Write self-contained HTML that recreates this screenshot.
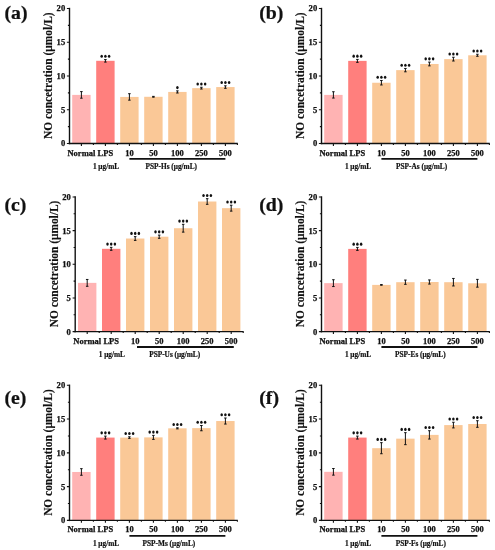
<!DOCTYPE html>
<html><head><meta charset="utf-8"><style>
html,body{margin:0;padding:0;background:#fff;}
svg{display:block;will-change:transform;}
text{font-family:"Liberation Serif", serif;font-weight:bold;fill:#111;}
.st{font-size:9px;text-anchor:middle;}
.yt{font-size:8.6px;text-anchor:end;stroke:#111;stroke-width:0.25px;}
.xl{font-size:8.5px;text-anchor:middle;stroke:#111;stroke-width:0.25px;}
.sl{font-size:7.3px;text-anchor:middle;stroke:#111;stroke-width:0.2px;}
.yl{font-size:11.8px;text-anchor:middle;stroke:#111;stroke-width:0.15px;}
.pl{font-size:19.8px;stroke:#111;stroke-width:0.25px;}
</style></head><body>
<svg width="495" height="550" viewBox="0 0 495 550">
<rect width="495" height="550" fill="#fff"/>
<rect x="72.2" y="94.9" width="18.4" height="48.6" fill="#FFB3B3"/>
<rect x="96.2" y="60.81" width="18.4" height="82.69" fill="#FF7F7D"/>
<rect x="120.2" y="96.92" width="18.4" height="46.58" fill="#FAC897"/>
<rect x="144.2" y="96.79" width="18.4" height="46.71" fill="#FAC897"/>
<rect x="168.2" y="91.93" width="18.4" height="51.57" fill="#FAC897"/>
<rect x="192.2" y="88.15" width="18.4" height="55.35" fill="#FAC897"/>
<rect x="216.2" y="87.07" width="18.4" height="56.43" fill="#FAC897"/>
<path d="M81.4 91.6V98.2M80.15 91.6h2.5M80.15 98.2h2.5" stroke="#111" stroke-width="1" fill="none"/>
<path d="M105.4 59.54V62.08M104.15 59.54h2.5M104.15 62.08h2.5" stroke="#111" stroke-width="1" fill="none"/>
<ellipse cx="101.7" cy="56.29" rx="1.25" ry="1.55" fill="#111"/>
<ellipse cx="105.4" cy="56.29" rx="1.25" ry="1.55" fill="#111"/>
<ellipse cx="109.1" cy="56.29" rx="1.25" ry="1.55" fill="#111"/>
<path d="M129.4 93.7V100.15M128.15 93.7h2.5M128.15 100.15h2.5" stroke="#111" stroke-width="1" fill="none"/>
<path d="M153.4 96.39V97.19M152.15 96.39h2.5M152.15 97.19h2.5" stroke="#111" stroke-width="1" fill="none"/>
<path d="M177.4 90.86V93M176.15 90.86h2.5M176.15 93h2.5" stroke="#111" stroke-width="1" fill="none"/>
<ellipse cx="177.4" cy="87.61" rx="1.25" ry="1.55" fill="#111"/>
<path d="M201.4 87.28V89.02M200.15 87.28h2.5M200.15 89.02h2.5" stroke="#111" stroke-width="1" fill="none"/>
<ellipse cx="197.7" cy="84.03" rx="1.25" ry="1.55" fill="#111"/>
<ellipse cx="201.4" cy="84.03" rx="1.25" ry="1.55" fill="#111"/>
<ellipse cx="205.1" cy="84.03" rx="1.25" ry="1.55" fill="#111"/>
<path d="M225.4 85.8V88.34M224.15 85.8h2.5M224.15 88.34h2.5" stroke="#111" stroke-width="1" fill="none"/>
<ellipse cx="221.7" cy="82.55" rx="1.25" ry="1.55" fill="#111"/>
<ellipse cx="225.4" cy="82.55" rx="1.25" ry="1.55" fill="#111"/>
<ellipse cx="229.1" cy="82.55" rx="1.25" ry="1.55" fill="#111"/>
<path d="M69.5 7.8V144.2" stroke="#111" stroke-width="1.4"/>
<path d="M68.8 143.5H237.8" stroke="#111" stroke-width="1.4"/>
<path d="M69.5 143.5h-2.6M69.5 126.62h-1.6M69.5 109.75h-2.6M69.5 92.88h-1.6M69.5 76h-2.6M69.5 59.12h-1.6M69.5 42.25h-2.6M69.5 25.38h-1.6M69.5 8.5h-2.6" stroke="#111" stroke-width="1.1"/>
<text x="65.2" y="146.4" class="yt">0</text>
<text x="65.2" y="112.65" class="yt">5</text>
<text x="65.2" y="78.9" class="yt">10</text>
<text x="65.2" y="45.15" class="yt">15</text>
<text x="65.2" y="11.4" class="yt">20</text>
<path d="M81.4 143.5v2.4M93.4 143.5v1.4M105.4 143.5v2.4M117.4 143.5v1.4M129.4 143.5v2.4M141.4 143.5v1.4M153.4 143.5v2.4M165.4 143.5v1.4M177.4 143.5v2.4M189.4 143.5v1.4M201.4 143.5v2.4M213.4 143.5v1.4M225.4 143.5v2.4M237.4 143.5v1.4" stroke="#111" stroke-width="1.1"/>
<text x="81.4" y="155.5" class="xl">Normal</text>
<text x="105.4" y="155.5" class="xl">LPS</text>
<text x="129.4" y="155.5" class="xl">10</text>
<text x="153.4" y="155.5" class="xl">50</text>
<text x="177.4" y="155.5" class="xl">100</text>
<text x="201.4" y="155.5" class="xl">250</text>
<text x="225.4" y="155.5" class="xl">500</text>
<text x="106" y="168.8" class="sl">1 μg/mL</text>
<path d="M129.4 158.9H225.4" stroke="#111" stroke-width="1.8"/>
<text x="171.3" y="169.1" class="sl">PSP-Hs (μg/mL)</text>
<text transform="translate(51.9 75.7) rotate(-90)" class="yl" textLength="126.6" lengthAdjust="spacingAndGlyphs">NO concetration (μmol/L)</text>
<text transform="translate(4.45 18.5) scale(1 0.93)" class="pl">(a)</text>
<rect x="324.2" y="94.9" width="18.4" height="48.6" fill="#FFB3B3"/>
<rect x="348.2" y="60.88" width="18.4" height="82.62" fill="#FF7F7D"/>
<rect x="372.2" y="82.75" width="18.4" height="60.75" fill="#FAC897"/>
<rect x="396.2" y="70.13" width="18.4" height="73.37" fill="#FAC897"/>
<rect x="420.2" y="63.98" width="18.4" height="79.52" fill="#FAC897"/>
<rect x="444.2" y="59.12" width="18.4" height="84.38" fill="#FAC897"/>
<rect x="468.2" y="55.28" width="18.4" height="88.22" fill="#FAC897"/>
<path d="M333.4 91.74V98.06M332.15 91.74h2.5M332.15 98.06h2.5" stroke="#111" stroke-width="1" fill="none"/>
<path d="M357.4 59.41V62.35M356.15 59.41h2.5M356.15 62.35h2.5" stroke="#111" stroke-width="1" fill="none"/>
<ellipse cx="353.7" cy="56.16" rx="1.25" ry="1.55" fill="#111"/>
<ellipse cx="357.4" cy="56.16" rx="1.25" ry="1.55" fill="#111"/>
<ellipse cx="361.1" cy="56.16" rx="1.25" ry="1.55" fill="#111"/>
<path d="M381.4 80.53V84.97M380.15 80.53h2.5M380.15 84.97h2.5" stroke="#111" stroke-width="1" fill="none"/>
<ellipse cx="377.7" cy="77.28" rx="1.25" ry="1.55" fill="#111"/>
<ellipse cx="381.4" cy="77.28" rx="1.25" ry="1.55" fill="#111"/>
<ellipse cx="385.1" cy="77.28" rx="1.25" ry="1.55" fill="#111"/>
<path d="M405.4 68.45V71.8M404.15 68.45h2.5M404.15 71.8h2.5" stroke="#111" stroke-width="1" fill="none"/>
<ellipse cx="401.7" cy="65.2" rx="1.25" ry="1.55" fill="#111"/>
<ellipse cx="405.4" cy="65.2" rx="1.25" ry="1.55" fill="#111"/>
<ellipse cx="409.1" cy="65.2" rx="1.25" ry="1.55" fill="#111"/>
<path d="M429.4 62.11V65.86M428.15 62.11h2.5M428.15 65.86h2.5" stroke="#111" stroke-width="1" fill="none"/>
<ellipse cx="425.7" cy="58.86" rx="1.25" ry="1.55" fill="#111"/>
<ellipse cx="429.4" cy="58.86" rx="1.25" ry="1.55" fill="#111"/>
<ellipse cx="433.1" cy="58.86" rx="1.25" ry="1.55" fill="#111"/>
<path d="M453.4 57.25V61M452.15 57.25h2.5M452.15 61h2.5" stroke="#111" stroke-width="1" fill="none"/>
<ellipse cx="449.7" cy="54" rx="1.25" ry="1.55" fill="#111"/>
<ellipse cx="453.4" cy="54" rx="1.25" ry="1.55" fill="#111"/>
<ellipse cx="457.1" cy="54" rx="1.25" ry="1.55" fill="#111"/>
<path d="M477.4 54.28V56.28M476.15 54.28h2.5M476.15 56.28h2.5" stroke="#111" stroke-width="1" fill="none"/>
<ellipse cx="473.7" cy="51.03" rx="1.25" ry="1.55" fill="#111"/>
<ellipse cx="477.4" cy="51.03" rx="1.25" ry="1.55" fill="#111"/>
<ellipse cx="481.1" cy="51.03" rx="1.25" ry="1.55" fill="#111"/>
<path d="M321.5 7.8V144.2" stroke="#111" stroke-width="1.4"/>
<path d="M320.8 143.5H489.8" stroke="#111" stroke-width="1.4"/>
<path d="M321.5 143.5h-2.6M321.5 126.62h-1.6M321.5 109.75h-2.6M321.5 92.88h-1.6M321.5 76h-2.6M321.5 59.12h-1.6M321.5 42.25h-2.6M321.5 25.38h-1.6M321.5 8.5h-2.6" stroke="#111" stroke-width="1.1"/>
<text x="317.2" y="146.4" class="yt">0</text>
<text x="317.2" y="112.65" class="yt">5</text>
<text x="317.2" y="78.9" class="yt">10</text>
<text x="317.2" y="45.15" class="yt">15</text>
<text x="317.2" y="11.4" class="yt">20</text>
<path d="M333.4 143.5v2.4M345.4 143.5v1.4M357.4 143.5v2.4M369.4 143.5v1.4M381.4 143.5v2.4M393.4 143.5v1.4M405.4 143.5v2.4M417.4 143.5v1.4M429.4 143.5v2.4M441.4 143.5v1.4M453.4 143.5v2.4M465.4 143.5v1.4M477.4 143.5v2.4M489.4 143.5v1.4" stroke="#111" stroke-width="1.1"/>
<text x="333.4" y="155.5" class="xl">Normal</text>
<text x="357.4" y="155.5" class="xl">LPS</text>
<text x="381.4" y="155.5" class="xl">10</text>
<text x="405.4" y="155.5" class="xl">50</text>
<text x="429.4" y="155.5" class="xl">100</text>
<text x="453.4" y="155.5" class="xl">250</text>
<text x="477.4" y="155.5" class="xl">500</text>
<text x="358" y="168.8" class="sl">1 μg/mL</text>
<path d="M381.4 158.9H477.4" stroke="#111" stroke-width="1.8"/>
<text x="421.6" y="169.1" class="sl">PSP-As (μg/mL)</text>
<text transform="translate(303.9 75.7) rotate(-90)" class="yl" textLength="126.6" lengthAdjust="spacingAndGlyphs">NO concetration (μmol/L)</text>
<text transform="translate(259.2 18.5) scale(1 0.93)" class="pl">(b)</text>
<rect x="78" y="282.87" width="18.4" height="48.73" fill="#FFB3B3"/>
<rect x="102" y="248.82" width="18.4" height="82.78" fill="#FF7F7D"/>
<rect x="126" y="238.52" width="18.4" height="93.08" fill="#FAC897"/>
<rect x="150" y="236.71" width="18.4" height="94.89" fill="#FAC897"/>
<rect x="174" y="228.23" width="18.4" height="103.37" fill="#FAC897"/>
<rect x="198" y="201.51" width="18.4" height="130.09" fill="#FAC897"/>
<rect x="222" y="208.17" width="18.4" height="123.43" fill="#FAC897"/>
<path d="M87.2 279.46V286.29M85.95 279.46h2.5M85.95 286.29h2.5" stroke="#111" stroke-width="1" fill="none"/>
<path d="M111.2 247.35V250.29M109.95 247.35h2.5M109.95 250.29h2.5" stroke="#111" stroke-width="1" fill="none"/>
<ellipse cx="107.5" cy="244.1" rx="1.25" ry="1.55" fill="#111"/>
<ellipse cx="111.2" cy="244.1" rx="1.25" ry="1.55" fill="#111"/>
<ellipse cx="114.9" cy="244.1" rx="1.25" ry="1.55" fill="#111"/>
<path d="M135.2 236.65V240.4M133.95 236.65h2.5M133.95 240.4h2.5" stroke="#111" stroke-width="1" fill="none"/>
<ellipse cx="131.5" cy="233.4" rx="1.25" ry="1.55" fill="#111"/>
<ellipse cx="135.2" cy="233.4" rx="1.25" ry="1.55" fill="#111"/>
<ellipse cx="138.9" cy="233.4" rx="1.25" ry="1.55" fill="#111"/>
<path d="M159.2 235.11V238.31M157.95 235.11h2.5M157.95 238.31h2.5" stroke="#111" stroke-width="1" fill="none"/>
<ellipse cx="155.5" cy="231.86" rx="1.25" ry="1.55" fill="#111"/>
<ellipse cx="159.2" cy="231.86" rx="1.25" ry="1.55" fill="#111"/>
<ellipse cx="162.9" cy="231.86" rx="1.25" ry="1.55" fill="#111"/>
<path d="M183.2 224.34V232.12M181.95 224.34h2.5M181.95 232.12h2.5" stroke="#111" stroke-width="1" fill="none"/>
<ellipse cx="179.5" cy="221.09" rx="1.25" ry="1.55" fill="#111"/>
<ellipse cx="183.2" cy="221.09" rx="1.25" ry="1.55" fill="#111"/>
<ellipse cx="186.9" cy="221.09" rx="1.25" ry="1.55" fill="#111"/>
<path d="M207.2 198.7V204.32M205.95 198.7h2.5M205.95 204.32h2.5" stroke="#111" stroke-width="1" fill="none"/>
<ellipse cx="203.5" cy="195.45" rx="1.25" ry="1.55" fill="#111"/>
<ellipse cx="207.2" cy="195.45" rx="1.25" ry="1.55" fill="#111"/>
<ellipse cx="210.9" cy="195.45" rx="1.25" ry="1.55" fill="#111"/>
<path d="M231.2 205.22V211.12M229.95 205.22h2.5M229.95 211.12h2.5" stroke="#111" stroke-width="1" fill="none"/>
<ellipse cx="227.5" cy="201.97" rx="1.25" ry="1.55" fill="#111"/>
<ellipse cx="231.2" cy="201.97" rx="1.25" ry="1.55" fill="#111"/>
<ellipse cx="234.9" cy="201.97" rx="1.25" ry="1.55" fill="#111"/>
<path d="M75.2 196.3V332.3" stroke="#111" stroke-width="1.4"/>
<path d="M74.5 331.6H243.6" stroke="#111" stroke-width="1.4"/>
<path d="M75.2 331.6h-2.6M75.2 314.78h-1.6M75.2 297.95h-2.6M75.2 281.12h-1.6M75.2 264.3h-2.6M75.2 247.48h-1.6M75.2 230.65h-2.6M75.2 213.82h-1.6M75.2 197h-2.6" stroke="#111" stroke-width="1.1"/>
<text x="70.9" y="334.5" class="yt">0</text>
<text x="70.9" y="300.85" class="yt">5</text>
<text x="70.9" y="267.2" class="yt">10</text>
<text x="70.9" y="233.55" class="yt">15</text>
<text x="70.9" y="199.9" class="yt">20</text>
<path d="M87.2 331.6v2.4M99.2 331.6v1.4M111.2 331.6v2.4M123.2 331.6v1.4M135.2 331.6v2.4M147.2 331.6v1.4M159.2 331.6v2.4M171.2 331.6v1.4M183.2 331.6v2.4M195.2 331.6v1.4M207.2 331.6v2.4M219.2 331.6v1.4M231.2 331.6v2.4M243.2 331.6v1.4" stroke="#111" stroke-width="1.1"/>
<text x="87.2" y="343.6" class="xl">Normal</text>
<text x="111.2" y="343.6" class="xl">LPS</text>
<text x="135.2" y="343.6" class="xl">10</text>
<text x="159.2" y="343.6" class="xl">50</text>
<text x="183.2" y="343.6" class="xl">100</text>
<text x="207.2" y="343.6" class="xl">250</text>
<text x="231.2" y="343.6" class="xl">500</text>
<text x="111.8" y="356.9" class="sl">1 μg/mL</text>
<path d="M137 347H233.8" stroke="#111" stroke-width="1.8"/>
<text x="174.7" y="357.2" class="sl">PSP-Us (μg/mL)</text>
<text transform="translate(57.6 264) rotate(-90)" class="yl" textLength="126.6" lengthAdjust="spacingAndGlyphs">NO concetration (μmol/L)</text>
<text transform="translate(4.45 211.35) scale(1 0.93)" class="pl">(c)</text>
<rect x="324.2" y="283.14" width="18.4" height="48.46" fill="#FFB3B3"/>
<rect x="348.2" y="248.89" width="18.4" height="82.71" fill="#FF7F7D"/>
<rect x="372.2" y="284.89" width="18.4" height="46.71" fill="#FAC897"/>
<rect x="396.2" y="282.2" width="18.4" height="49.4" fill="#FAC897"/>
<rect x="420.2" y="282" width="18.4" height="49.6" fill="#FAC897"/>
<rect x="444.2" y="282.2" width="18.4" height="49.4" fill="#FAC897"/>
<rect x="468.2" y="283.28" width="18.4" height="48.32" fill="#FAC897"/>
<path d="M333.4 279.73V286.56M332.15 279.73h2.5M332.15 286.56h2.5" stroke="#111" stroke-width="1" fill="none"/>
<path d="M357.4 247.42V250.36M356.15 247.42h2.5M356.15 250.36h2.5" stroke="#111" stroke-width="1" fill="none"/>
<ellipse cx="353.7" cy="244.17" rx="1.25" ry="1.55" fill="#111"/>
<ellipse cx="357.4" cy="244.17" rx="1.25" ry="1.55" fill="#111"/>
<ellipse cx="361.1" cy="244.17" rx="1.25" ry="1.55" fill="#111"/>
<path d="M381.4 284.56V285.23M380.15 284.56h2.5M380.15 285.23h2.5" stroke="#111" stroke-width="1" fill="none"/>
<path d="M405.4 280.06V284.34M404.15 280.06h2.5M404.15 284.34h2.5" stroke="#111" stroke-width="1" fill="none"/>
<path d="M429.4 279.93V284.07M428.15 279.93h2.5M428.15 284.07h2.5" stroke="#111" stroke-width="1" fill="none"/>
<path d="M453.4 278.45V285.96M452.15 278.45h2.5M452.15 285.96h2.5" stroke="#111" stroke-width="1" fill="none"/>
<path d="M477.4 279.39V287.17M476.15 279.39h2.5M476.15 287.17h2.5" stroke="#111" stroke-width="1" fill="none"/>
<path d="M321.5 196.3V332.3" stroke="#111" stroke-width="1.4"/>
<path d="M320.8 331.6H489.8" stroke="#111" stroke-width="1.4"/>
<path d="M321.5 331.6h-2.6M321.5 314.78h-1.6M321.5 297.95h-2.6M321.5 281.12h-1.6M321.5 264.3h-2.6M321.5 247.48h-1.6M321.5 230.65h-2.6M321.5 213.82h-1.6M321.5 197h-2.6" stroke="#111" stroke-width="1.1"/>
<text x="317.2" y="334.5" class="yt">0</text>
<text x="317.2" y="300.85" class="yt">5</text>
<text x="317.2" y="267.2" class="yt">10</text>
<text x="317.2" y="233.55" class="yt">15</text>
<text x="317.2" y="199.9" class="yt">20</text>
<path d="M333.4 331.6v2.4M345.4 331.6v1.4M357.4 331.6v2.4M369.4 331.6v1.4M381.4 331.6v2.4M393.4 331.6v1.4M405.4 331.6v2.4M417.4 331.6v1.4M429.4 331.6v2.4M441.4 331.6v1.4M453.4 331.6v2.4M465.4 331.6v1.4M477.4 331.6v2.4M489.4 331.6v1.4" stroke="#111" stroke-width="1.1"/>
<text x="333.4" y="343.6" class="xl">Normal</text>
<text x="357.4" y="343.6" class="xl">LPS</text>
<text x="381.4" y="343.6" class="xl">10</text>
<text x="405.4" y="343.6" class="xl">50</text>
<text x="429.4" y="343.6" class="xl">100</text>
<text x="453.4" y="343.6" class="xl">250</text>
<text x="477.4" y="343.6" class="xl">500</text>
<text x="358" y="356.9" class="sl">1 μg/mL</text>
<path d="M381.4 347H477.4" stroke="#111" stroke-width="1.8"/>
<text x="420.4" y="357.2" class="sl">PSP-Es (μg/mL)</text>
<text transform="translate(303.9 264) rotate(-90)" class="yl" textLength="126.6" lengthAdjust="spacingAndGlyphs">NO concetration (μmol/L)</text>
<text transform="translate(259.2 211.35) scale(1 0.93)" class="pl">(d)</text>
<rect x="72.2" y="471.97" width="18.4" height="48.43" fill="#FFB3B3"/>
<rect x="96.2" y="437.58" width="18.4" height="82.82" fill="#FF7F7D"/>
<rect x="120.2" y="437.58" width="18.4" height="82.82" fill="#FAC897"/>
<rect x="144.2" y="437.38" width="18.4" height="83.02" fill="#FAC897"/>
<rect x="168.2" y="428.33" width="18.4" height="92.07" fill="#FAC897"/>
<rect x="192.2" y="428.13" width="18.4" height="92.27" fill="#FAC897"/>
<rect x="216.2" y="421.03" width="18.4" height="99.37" fill="#FAC897"/>
<path d="M81.4 468.67V475.26M80.15 468.67h2.5M80.15 475.26h2.5" stroke="#111" stroke-width="1" fill="none"/>
<path d="M105.4 436.11V439.06M104.15 436.11h2.5M104.15 439.06h2.5" stroke="#111" stroke-width="1" fill="none"/>
<ellipse cx="101.7" cy="432.86" rx="1.25" ry="1.55" fill="#111"/>
<ellipse cx="105.4" cy="432.86" rx="1.25" ry="1.55" fill="#111"/>
<ellipse cx="109.1" cy="432.86" rx="1.25" ry="1.55" fill="#111"/>
<path d="M129.4 436.79V438.38M128.15 436.79h2.5M128.15 438.38h2.5" stroke="#111" stroke-width="1" fill="none"/>
<ellipse cx="125.7" cy="433.54" rx="1.25" ry="1.55" fill="#111"/>
<ellipse cx="129.4" cy="433.54" rx="1.25" ry="1.55" fill="#111"/>
<ellipse cx="133.1" cy="433.54" rx="1.25" ry="1.55" fill="#111"/>
<path d="M153.4 435.37V439.4M152.15 435.37h2.5M152.15 439.4h2.5" stroke="#111" stroke-width="1" fill="none"/>
<ellipse cx="149.7" cy="432.12" rx="1.25" ry="1.55" fill="#111"/>
<ellipse cx="153.4" cy="432.12" rx="1.25" ry="1.55" fill="#111"/>
<ellipse cx="157.1" cy="432.12" rx="1.25" ry="1.55" fill="#111"/>
<path d="M177.4 427.79V428.87M176.15 427.79h2.5M176.15 428.87h2.5" stroke="#111" stroke-width="1" fill="none"/>
<ellipse cx="173.7" cy="424.54" rx="1.25" ry="1.55" fill="#111"/>
<ellipse cx="177.4" cy="424.54" rx="1.25" ry="1.55" fill="#111"/>
<ellipse cx="181.1" cy="424.54" rx="1.25" ry="1.55" fill="#111"/>
<path d="M201.4 425.5V430.75M200.15 425.5h2.5M200.15 430.75h2.5" stroke="#111" stroke-width="1" fill="none"/>
<ellipse cx="197.7" cy="422.25" rx="1.25" ry="1.55" fill="#111"/>
<ellipse cx="201.4" cy="422.25" rx="1.25" ry="1.55" fill="#111"/>
<ellipse cx="205.1" cy="422.25" rx="1.25" ry="1.55" fill="#111"/>
<path d="M225.4 418.01V424.06M224.15 418.01h2.5M224.15 424.06h2.5" stroke="#111" stroke-width="1" fill="none"/>
<ellipse cx="221.7" cy="414.76" rx="1.25" ry="1.55" fill="#111"/>
<ellipse cx="225.4" cy="414.76" rx="1.25" ry="1.55" fill="#111"/>
<ellipse cx="229.1" cy="414.76" rx="1.25" ry="1.55" fill="#111"/>
<path d="M69.5 384.6V521.1" stroke="#111" stroke-width="1.4"/>
<path d="M68.8 520.4H237.8" stroke="#111" stroke-width="1.4"/>
<path d="M69.5 520.4h-2.6M69.5 503.51h-1.6M69.5 486.62h-2.6M69.5 469.74h-1.6M69.5 452.85h-2.6M69.5 435.96h-1.6M69.5 419.07h-2.6M69.5 402.19h-1.6M69.5 385.3h-2.6" stroke="#111" stroke-width="1.1"/>
<text x="65.2" y="523.3" class="yt">0</text>
<text x="65.2" y="489.52" class="yt">5</text>
<text x="65.2" y="455.75" class="yt">10</text>
<text x="65.2" y="421.97" class="yt">15</text>
<text x="65.2" y="388.2" class="yt">20</text>
<path d="M81.4 520.4v2.4M93.4 520.4v1.4M105.4 520.4v2.4M117.4 520.4v1.4M129.4 520.4v2.4M141.4 520.4v1.4M153.4 520.4v2.4M165.4 520.4v1.4M177.4 520.4v2.4M189.4 520.4v1.4M201.4 520.4v2.4M213.4 520.4v1.4M225.4 520.4v2.4M237.4 520.4v1.4" stroke="#111" stroke-width="1.1"/>
<text x="81.4" y="532.4" class="xl">Normal</text>
<text x="105.4" y="532.4" class="xl">LPS</text>
<text x="129.4" y="532.4" class="xl">10</text>
<text x="153.4" y="532.4" class="xl">50</text>
<text x="177.4" y="532.4" class="xl">100</text>
<text x="201.4" y="532.4" class="xl">250</text>
<text x="225.4" y="532.4" class="xl">500</text>
<text x="106" y="545.7" class="sl">1 μg/mL</text>
<path d="M129.4 535.8H225.4" stroke="#111" stroke-width="1.8"/>
<text x="168.9" y="546" class="sl">PSP-Ms (μg/mL)</text>
<text transform="translate(51.9 452.55) rotate(-90)" class="yl" textLength="126.6" lengthAdjust="spacingAndGlyphs">NO concetration (μmol/L)</text>
<text transform="translate(4.45 404.05) scale(1 0.93)" class="pl">(e)</text>
<rect x="324.2" y="471.83" width="18.4" height="48.57" fill="#FFB3B3"/>
<rect x="348.2" y="437.58" width="18.4" height="82.82" fill="#FF7F7D"/>
<rect x="372.2" y="448.19" width="18.4" height="72.21" fill="#FAC897"/>
<rect x="396.2" y="438.66" width="18.4" height="81.74" fill="#FAC897"/>
<rect x="420.2" y="434.88" width="18.4" height="85.52" fill="#FAC897"/>
<rect x="444.2" y="425.09" width="18.4" height="95.31" fill="#FAC897"/>
<rect x="468.2" y="424.01" width="18.4" height="96.39" fill="#FAC897"/>
<path d="M333.4 468.53V475.13M332.15 468.53h2.5M332.15 475.13h2.5" stroke="#111" stroke-width="1" fill="none"/>
<path d="M357.4 436.11V439.06M356.15 436.11h2.5M356.15 439.06h2.5" stroke="#111" stroke-width="1" fill="none"/>
<ellipse cx="353.7" cy="432.86" rx="1.25" ry="1.55" fill="#111"/>
<ellipse cx="357.4" cy="432.86" rx="1.25" ry="1.55" fill="#111"/>
<ellipse cx="361.1" cy="432.86" rx="1.25" ry="1.55" fill="#111"/>
<path d="M381.4 442.66V453.72M380.15 442.66h2.5M380.15 453.72h2.5" stroke="#111" stroke-width="1" fill="none"/>
<ellipse cx="377.7" cy="439.41" rx="1.25" ry="1.55" fill="#111"/>
<ellipse cx="381.4" cy="439.41" rx="1.25" ry="1.55" fill="#111"/>
<ellipse cx="385.1" cy="439.41" rx="1.25" ry="1.55" fill="#111"/>
<path d="M405.4 432.66V444.66M404.15 432.66h2.5M404.15 444.66h2.5" stroke="#111" stroke-width="1" fill="none"/>
<ellipse cx="401.7" cy="429.41" rx="1.25" ry="1.55" fill="#111"/>
<ellipse cx="405.4" cy="429.41" rx="1.25" ry="1.55" fill="#111"/>
<ellipse cx="409.1" cy="429.41" rx="1.25" ry="1.55" fill="#111"/>
<path d="M429.4 430.71V439.06M428.15 430.71h2.5M428.15 439.06h2.5" stroke="#111" stroke-width="1" fill="none"/>
<ellipse cx="425.7" cy="427.46" rx="1.25" ry="1.55" fill="#111"/>
<ellipse cx="429.4" cy="427.46" rx="1.25" ry="1.55" fill="#111"/>
<ellipse cx="433.1" cy="427.46" rx="1.25" ry="1.55" fill="#111"/>
<path d="M453.4 422.26V427.91M452.15 422.26h2.5M452.15 427.91h2.5" stroke="#111" stroke-width="1" fill="none"/>
<ellipse cx="449.7" cy="419.01" rx="1.25" ry="1.55" fill="#111"/>
<ellipse cx="453.4" cy="419.01" rx="1.25" ry="1.55" fill="#111"/>
<ellipse cx="457.1" cy="419.01" rx="1.25" ry="1.55" fill="#111"/>
<path d="M477.4 420.71V427.3M476.15 420.71h2.5M476.15 427.3h2.5" stroke="#111" stroke-width="1" fill="none"/>
<ellipse cx="473.7" cy="417.46" rx="1.25" ry="1.55" fill="#111"/>
<ellipse cx="477.4" cy="417.46" rx="1.25" ry="1.55" fill="#111"/>
<ellipse cx="481.1" cy="417.46" rx="1.25" ry="1.55" fill="#111"/>
<path d="M321.5 384.6V521.1" stroke="#111" stroke-width="1.4"/>
<path d="M320.8 520.4H489.8" stroke="#111" stroke-width="1.4"/>
<path d="M321.5 520.4h-2.6M321.5 503.51h-1.6M321.5 486.62h-2.6M321.5 469.74h-1.6M321.5 452.85h-2.6M321.5 435.96h-1.6M321.5 419.07h-2.6M321.5 402.19h-1.6M321.5 385.3h-2.6" stroke="#111" stroke-width="1.1"/>
<text x="317.2" y="523.3" class="yt">0</text>
<text x="317.2" y="489.52" class="yt">5</text>
<text x="317.2" y="455.75" class="yt">10</text>
<text x="317.2" y="421.97" class="yt">15</text>
<text x="317.2" y="388.2" class="yt">20</text>
<path d="M333.4 520.4v2.4M345.4 520.4v1.4M357.4 520.4v2.4M369.4 520.4v1.4M381.4 520.4v2.4M393.4 520.4v1.4M405.4 520.4v2.4M417.4 520.4v1.4M429.4 520.4v2.4M441.4 520.4v1.4M453.4 520.4v2.4M465.4 520.4v1.4M477.4 520.4v2.4M489.4 520.4v1.4" stroke="#111" stroke-width="1.1"/>
<text x="333.4" y="532.4" class="xl">Normal</text>
<text x="357.4" y="532.4" class="xl">LPS</text>
<text x="381.4" y="532.4" class="xl">10</text>
<text x="405.4" y="532.4" class="xl">50</text>
<text x="429.4" y="532.4" class="xl">100</text>
<text x="453.4" y="532.4" class="xl">250</text>
<text x="477.4" y="532.4" class="xl">500</text>
<text x="358" y="545.7" class="sl">1 μg/mL</text>
<path d="M381.4 535.8H477.4" stroke="#111" stroke-width="1.8"/>
<text x="420.8" y="546" class="sl">PSP-Fs (μg/mL)</text>
<text transform="translate(303.9 452.55) rotate(-90)" class="yl" textLength="126.6" lengthAdjust="spacingAndGlyphs">NO concetration (μmol/L)</text>
<text transform="translate(259.2 404.05) scale(1 0.93)" class="pl">(f)</text>
</svg>
</body></html>
